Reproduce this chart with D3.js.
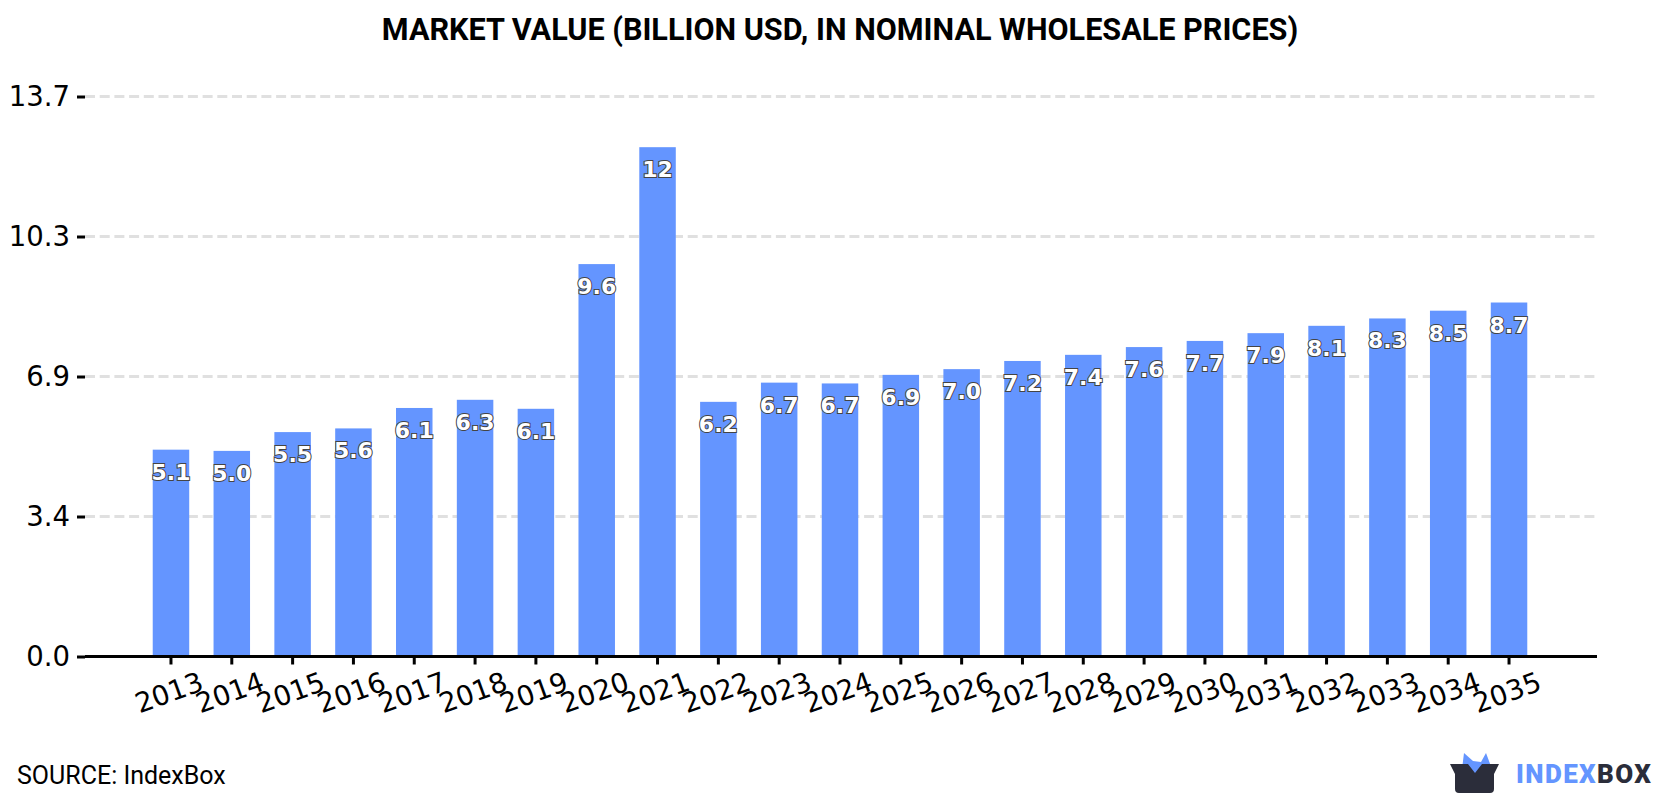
<!DOCTYPE html>
<html>
<head>
<meta charset="utf-8">
<script src="https://cdn.jsdelivr.net/npm/d3@7"></script>
<style>
  html, body { margin: 0; padding: 0; background: #fff; }
  svg { display: block; }
</style>
</head>
<body>
<svg id="chart" width="1680" height="800"></svg>
<script>
const years = ["2013","2014","2015","2016","2017","2018","2019","2020","2021","2022","2023","2024","2025","2026","2027","2028","2029","2030","2031","2032","2033","2034","2035"];
const marketValue = [5.06,5.03,5.49,5.58,6.08,6.28,6.06,9.60,12.46,6.23,6.70,6.68,6.89,7.03,7.23,7.38,7.57,7.72,7.91,8.09,8.27,8.46,8.66];
const yTicks = [0, 3.425, 6.85, 10.275, 13.7];
const yTickLabels = ["0.0", "3.4", "6.9", "10.3", "13.7"];
const titleText = "MARKET VALUE (BILLION USD, IN NOMINAL WHOLESALE PRICES)";
const sourceText = "SOURCE: IndexBox";

const BAR = "#6495ff", INK = "#000", GRID = "#e0e0e0", DARK = "#2b2d3a";
const svg = d3.select("#chart");
const margin = { left: 85, right: 83, top: 96.5, bottom: 143.5 };
const W = 1680, H = 800;

// The band range sits one pixel left of the plot frame
const x = d3.scaleBand().domain(years)
  .range([margin.left - 1, W - margin.right - 1]).paddingInner(0.4).paddingOuter(1.13);
const y = d3.scaleLinear().domain([0, 13.7]).range([H - margin.bottom, margin.top]);

// Dashed horizontal grid lines
svg.append("g").selectAll("line").data(yTicks.slice(1)).join("line")
  .attr("x1", margin.left).attr("x2", W - margin.right)
  .attr("y1", d => y(d)).attr("y2", d => y(d))
  .attr("stroke", GRID).attr("stroke-width", 3).attr("stroke-dasharray", "10 4.7");

// Bars
svg.append("g").selectAll("rect").data(marketValue).join("rect")
  .attr("x", (d, i) => x(years[i])).attr("width", x.bandwidth())
  .attr("y", d => y(d)).attr("height", d => y(0) - y(d))
  .attr("fill", BAR);

// Value axis
const yAxis = d3.axisLeft(y).tickValues(yTicks)
  .tickFormat((d, i) => yTickLabels[i]).tickSize(8).tickPadding(7);
const gy = svg.append("g").attr("transform", `translate(${margin.left},0)`).call(yAxis);
gy.select(".domain").remove();
gy.selectAll(".tick line").attr("stroke", INK).attr("stroke-width", 3);
gy.selectAll("text").attr("font-family", "DejaVu Sans").attr("font-size", 27.5).attr("fill", INK);

// Year axis, its baseline running the full plot width
const xAxis = d3.axisBottom(x).tickSize(8).tickSizeOuter(0);
const gx = svg.append("g").attr("transform", `translate(0,${y(0)})`).call(xAxis);
gx.select(".domain").attr("stroke", INK).attr("stroke-width", 3)
  .attr("d", `M${margin.left},0H${W - margin.right}`);
gx.selectAll(".tick line").attr("stroke", INK).attr("stroke-width", 3);
gx.selectAll("text")
  .attr("font-family", "DejaVu Sans").attr("font-size", 27.5).attr("fill", INK)
  .attr("text-anchor", "middle").attr("y", 0).attr("dy", "0.35em")
  .attr("transform", "translate(-2,36) rotate(-20)");

// Value labels just below the top of each bar
svg.append("g").selectAll("text").data(marketValue).join("text")
  .attr("x", (d, i) => x(years[i]) + x.bandwidth() / 2)
  .attr("y", d => y(d) + 30)
  .attr("text-anchor", "middle")
  .attr("font-family", "DejaVu Sans").attr("font-weight", "bold").attr("font-size", 22)
  .attr("fill", "#fff").attr("stroke", "#444").attr("stroke-width", 2)
  .attr("paint-order", "stroke")
  .text(d => d3.format(".2r")(d));

// Title and source line
svg.append("text").attr("x", 840).attr("y", 40).attr("text-anchor", "middle")
  .attr("font-family", "Roboto").attr("font-weight", "bold").attr("font-size", 30.6)
  .attr("fill", INK).text(titleText);
svg.append("text").attr("x", 17).attr("y", 784)
  .attr("font-family", "Roboto").attr("font-size", 25).attr("fill", INK).text(sourceText);

// Brand mark: open box with a blue crown rising out of it
const logo = svg.append("g").attr("transform", "translate(1450,753)");
logo.append("path").attr("fill", BAR)
  .attr("d", "M12 16 L14 0 L23 8 L31 9 L36 0 L42 16 L42 21 L10 21 Z");
logo.append("path").attr("fill", DARK)
  .attr("d", "M0 11 L18 11 L25 20 L32 11 L49 11 L44 21 L44 36 Q44 40 40 40 L9 40 Q5 40 5 36 L5 21 Z");
const wordmark = svg.append("text").attr("x", 1516).attr("y", 783)
  .attr("font-family", "Roboto").attr("font-weight", "900").attr("font-size", 26)
  .attr("letter-spacing", 1.4);
wordmark.append("tspan").attr("fill", BAR).text("INDEX");
wordmark.append("tspan").attr("fill", DARK).text("BOX");
</script>
</body>
</html>
